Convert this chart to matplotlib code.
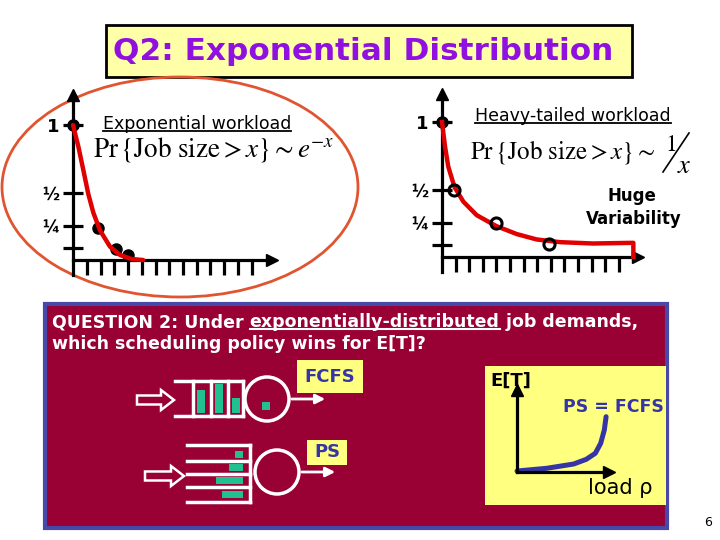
import matplotlib
matplotlib.use("Agg")
from matplotlib import pyplot as plt
from matplotlib.patches import Rectangle, Ellipse, Circle, FancyArrow

plt.rcParams['mathtext.fontset'] = 'stix'
plt.rcParams['font.family'] = ['DejaVu Sans']

W, H = 720, 540

# exponential workload: red curve and dots (x in tick units, y = probability)
exp_curve_x = [0, 0.39, 0.75, 1.11, 1.48, 1.96, 2.69, 3.42, 4.27, 5.1]
exp_curve_y = [1, 0.84, 0.667, 0.49, 0.35, 0.22, 0.099, 0.037, 0.007, 0.0]
exp_dots_x = [0, 1.84, 3.13, 4.0]
exp_dots_y = [1, 0.235, 0.079, 0.037]

# heavy-tailed workload
ht_curve_x = [0, 0.22, 0.46, 0.91, 1.57, 2.55, 3.97, 5.49, 6.96, 8.68, 11.1, 14.07, 14.07]
ht_curve_y = [1, 0.82, 0.67, 0.52, 0.41, 0.31, 0.23, 0.17, 0.13, 0.11, 0.10, 0.105, 0.0]
ht_dots_x = [0, 0.91, 3.97, 7.9]
ht_dots_y = [1, 0.5, 0.25, 0.10]

prob_ticks = [0.09, 0.25, 0.5, 1]
prob_labels = ['', '¼', '½', '1']

# E[T] vs load
load = [0, 0.33, 0.63, 0.77, 0.87, 0.93, 0.97, 0.99]
mean_resp = [0.1, 0.37, 0.8, 1.27, 1.87, 2.87, 4.2, 5.53]

# job sizes in the queue pictures (pixels)
fcfs_jobs = [23, 29, 15]
fcfs_in_service = 8
ps_jobs = [8, 14, 27, 21]

MAROON = '#990033'
GREEN = '#20C090'
YELLOW = '#FFFF80'
BLUE = '#3535A5'

fig = plt.figure(figsize=(W / 100, H / 100), dpi=100)
bg = fig.add_axes([0, 0, 1, 1])
bg.set_xlim(0, W)
bg.set_ylim(H, 0)
bg.axis('off')
renderer = fig.canvas.get_renderer()


def px_axes(x0, x1, y0, y1):
    ax = fig.add_axes([x0 / W, 1 - y1 / H, (x1 - x0) / W, (y1 - y0) / H])
    ax.patch.set_alpha(0)
    return ax


def text_width(s, **kw):
    t = bg.text(0, 0, s, **kw)
    bb = t.get_window_extent(renderer)
    t.remove()
    return bb.width


def underline(t, color, lw=1.5, off=0):
    bb = t.get_window_extent(renderer)
    inv = bg.transData.inverted()
    (xa, ya), (xb, yb) = inv.transform([(bb.x0, bb.y0), (bb.x1, bb.y0)])
    bg.plot([xa, xb], [ya + off, ya + off], color=color, lw=lw)


# title
bg.add_patch(Rectangle((106, 25), 526, 52, facecolor='#FFFFA8', edgecolor='black', lw=2))
bg.text(113, 51, 'Q2: Exponential Distribution', color='#9010E0', fontsize=22.4,
        fontweight='bold', va='center', ha='left')

# ellipse around exponential chart
bg.add_patch(Ellipse((180, 187), 356, 220, facecolor='none', edgecolor='#E05530', lw=2))


def workload_axes(x_origin, y_origin, x_unit, xmax_axis, ytop_axis):
    x0 = x_origin - 1.6 * x_unit
    x1 = x_origin + 15 * x_unit
    ax = px_axes(x0, x1, y_origin - 1.35 * 135, y_origin + 0.2 * 135)
    ax.set_xlim(-1.6, 15)
    ax.set_ylim(-0.2, 1.35)
    for s in ['top', 'right']:
        ax.spines[s].set_visible(False)
    ax.spines['left'].set_position(('data', 0))
    ax.spines['bottom'].set_position(('data', 0))
    ax.spines['left'].set_bounds(-0.11, ytop_axis)
    ax.spines['bottom'].set_bounds(0, xmax_axis)
    for s in ['left', 'bottom']:
        ax.spines[s].set_linewidth(2.3)
    ax.set_yticks(prob_ticks, labels=prob_labels)
    ax.set_xticks(range(1, 14), labels=[''] * 13)
    ax.tick_params(axis='y', direction='inout', length=15, width=2.3, pad=2)
    ax.tick_params(axis='x', direction='out', length=11, width=2.3)
    for lab in ax.get_yticklabels():
        lab.set_fontweight('bold')
        lab.set_fontsize(13 if lab.get_text() == '1' else 12)
    ax.plot([0], [ytop_axis], marker='^', color='black', ms=8, clip_on=False)
    ax.plot([xmax_axis], [0], marker='>', color='black', ms=8, clip_on=False)
    return ax


ax1 = workload_axes(73, 260, 13.75, 14.5, 1.22)
ax1.plot(exp_dots_x, exp_dots_y, 'o', color='black', ms=8, zorder=3)
ax1.plot(exp_curve_x, exp_curve_y, color='#E00000', lw=3.2, zorder=4,
         solid_capstyle='round')

ax2 = workload_axes(442, 257, 13.6, 14.4, 1.21)
ax2.plot(ht_dots_x[:1], ht_dots_y[:1], 'o', color='black', ms=8, zorder=3)
ax2.plot(ht_dots_x[1:], ht_dots_y[1:], 'o', mfc='none', mec='black', mew=2.2,
         ms=8, zorder=5)
ax2.plot(ht_curve_x, ht_curve_y, color='#E00000', lw=3.2, zorder=4)

# workload captions
t = bg.text(103, 124, 'Exponential workload', fontsize=12.5, va='center', ha='left')
underline(t, 'black', lw=1.3, off=-2)
bg.text(93, 150, r'$\Pr\{\mathrm{Job\ size} > x\} \sim e^{-x}$', fontsize=19.5,
        va='center', ha='left')
t = bg.text(475, 116, 'Heavy-tailed workload', fontsize=12.5, va='center', ha='left')
underline(t, 'black', lw=1.3, off=-2)
bg.text(470, 152, r'$\Pr\{\mathrm{Job\ size} > x\} \sim$', fontsize=18,
        va='center', ha='left')
bg.text(671, 144, r'$1$', fontsize=17, va='center', ha='center')
bg.plot([663, 689], [172, 133], color='black', lw=1.2)
bg.text(684, 166, r'$x$', fontsize=19, va='center', ha='center')
bg.text(632, 196, 'Huge', fontsize=12, fontweight='bold', va='center', ha='center')
bg.text(634, 219, 'Variability', fontsize=12, fontweight='bold', va='center', ha='center')

# question panel
bg.add_patch(Rectangle((45, 304), 622, 224, facecolor=MAROON, edgecolor='#4848A8', lw=3))
qkw = dict(fontsize=12.5, fontweight='bold', color='white', va='center', ha='left')
line1 = ['QUESTION 2: Under ', 'exponentially-distributed', ' job demands,']
x = 52
for i, part in enumerate(line1):
    t = bg.text(x, 322, part, **qkw)
    if i == 1:
        underline(t, 'white', lw=1.5, off=-2)
    # advance by the width including surrounding spaces
    x += text_width('|' + part + '|', **qkw) - 2 * text_width('|', **qkw)
bg.text(52, 344, 'which scheduling policy wins for E[T]?', **qkw)


def hollow_arrow(x0, x1, y):
    bg.add_patch(FancyArrow(x0, y, x1 - x0, 0, width=9, head_width=20,
                            head_length=13, length_includes_head=True,
                            facecolor=MAROON, edgecolor='white', lw=1.8))


# FCFS queue
hollow_arrow(137, 174, 400)
bg.plot([175, 243], [381, 381], color='white', lw=2.5)
bg.plot([175, 243], [416, 416], color='white', lw=2.5)
for xv in [193, 211, 228, 243]:
    bg.plot([xv, xv], [381, 416], color='white', lw=2.5)
for i, h in enumerate(fcfs_jobs):
    xb = 197 + i * 17.5
    bg.add_patch(Rectangle((xb, 413 - h), 8, h, facecolor=GREEN, edgecolor='none'))
bg.add_patch(Circle((267, 399), 22, facecolor='none', edgecolor='white', lw=2.5))
bg.add_patch(Rectangle((262, 410 - fcfs_in_service), fcfs_in_service, fcfs_in_service,
                       facecolor=GREEN, edgecolor='none'))
bg.annotate('', xy=(328, 399), xytext=(289, 399),
            arrowprops=dict(arrowstyle='-|>', color='white', lw=2, mutation_scale=14))
bg.add_patch(Rectangle((297, 360), 66, 33, facecolor=YELLOW, edgecolor='none'))
bg.text(330, 377, 'FCFS', color=BLUE, fontsize=13, fontweight='bold', va='center', ha='center')

# PS queue
hollow_arrow(145, 184, 476)
for yv in [445, 461, 474, 487, 502]:
    bg.plot([187, 250], [yv, yv], color='white', lw=2.5)
bg.plot([250, 250], [445, 502], color='white', lw=2.5)
for i, w in enumerate(ps_jobs):
    yb = 451 + i * 13.2
    bg.add_patch(Rectangle((243 - w, yb), w, 7, facecolor=GREEN, edgecolor='none'))
bg.add_patch(Circle((277, 472), 22, facecolor='none', edgecolor='white', lw=2.5))
bg.annotate('', xy=(338, 472), xytext=(299, 472),
            arrowprops=dict(arrowstyle='-|>', color='white', lw=2, mutation_scale=14))
bg.add_patch(Rectangle((307, 440), 40, 25, facecolor=YELLOW, edgecolor='none'))
bg.text(327, 452, 'PS', color=BLUE, fontsize=13, fontweight='bold', va='center', ha='center')

# E[T] inset
bg.add_patch(Rectangle((485, 366), 181, 139, facecolor=YELLOW, edgecolor='none'))
ax3 = px_axes(517 - 0.1 * 90, 517 + 1.1 * 90, 472 - 9 * 10, 472 + 0.5 * 10)
ax3.set_xlim(-0.1, 1.1)
ax3.set_ylim(-0.5, 9)
for s in ['top', 'right']:
    ax3.spines[s].set_visible(False)
ax3.spines['left'].set_position(('data', 0))
ax3.spines['bottom'].set_position(('data', 0))
ax3.spines['left'].set_bounds(0, 8.0)
ax3.spines['bottom'].set_bounds(0, 1.0)
for s in ['left', 'bottom']:
    ax3.spines[s].set_linewidth(2.3)
ax3.set_xticks([])
ax3.set_yticks([])
ax3.plot([0], [8.2], marker='^', color='black', ms=9, clip_on=False)
ax3.plot([1.02], [0], marker='>', color='black', ms=9, clip_on=False)
ax3.plot(load, mean_resp, color=BLUE, lw=3.6, solid_capstyle='round', clip_on=False)
bg.text(511, 381, 'E[T]', fontsize=13, fontweight='bold', va='center', ha='center')
bg.text(613, 407, 'PS = FCFS', color=BLUE, fontsize=12.5, fontweight='bold',
        va='center', ha='center')
bg.text(620, 488, 'load ρ', fontsize=15, va='center', ha='center')

bg.text(708, 522, '6', fontsize=9, va='center', ha='center')

fig.savefig('out.png', dpi=100)
